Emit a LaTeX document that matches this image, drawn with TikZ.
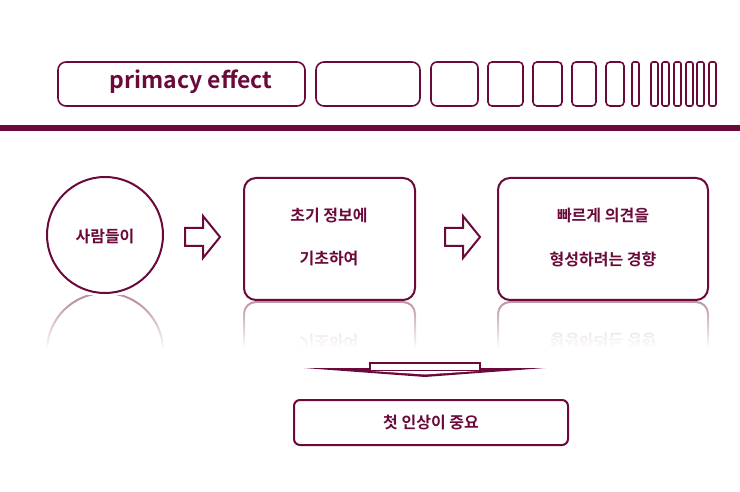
\documentclass[tikz,border=0pt]{standalone}
\usepackage{fontspec}
\setmainfont{Noto Sans CJK KR}[BoldFont={* Bold}]
\definecolor{wine}{HTML}{6B0A3A}
\begin{document}
\begin{tikzpicture}[x=1pt,y=-1pt,
 box/.style={draw=wine,line width=2pt,rounded corners=12pt,fill=white},
 bar/.style={draw=wine,line width=1.6pt,rounded corners=4pt},
 lbl/.style={text=wine,font=\bfseries\fontsize{16}{18}\selectfont},
 refl/.style={draw=wine!45,line width=2pt,rounded corners=12pt},
 rarrow/.style={draw=wine,line width=2pt,fill=white}]
\useasboundingbox (0,0) rectangle (740,492);
% top bar
\draw[bar,rounded corners=8pt] (58,62) rectangle (305,106);
\node[text=wine,font=\bfseries\fontsize{23}{26}\selectfont] (pe) at (191,82) {primacy effect};
\draw[bar,rounded corners=8pt] (316,62) rectangle (420,106);
\draw[bar,rounded corners=6pt] (431,62) rectangle (478,106);
\draw[bar] (488,62) rectangle (523,106);
\draw[bar] (533,62) rectangle (562,106);
\draw[bar] (572,62) rectangle (596,106);
\draw[bar] (606,62) rectangle (624,106);
\foreach \x in {632,651,662,674,686,697,709}{\draw[bar,rounded corners=2pt] (\x,62) rectangle (\x+7,106);}
\draw[wine,line width=6pt] (0,128) -- (740,128);
% reflections
\begin{scope}
\clip (0,296) rectangle (740,358);
\draw[refl] (105,351) circle (58);
\draw[refl] (244,302) rectangle (415,424);
\draw[refl] (498,302) rectangle (708,424);
\node[lbl,text=wine!30,yscale=-1,transform shape] (r1) at (329,341) {기초하여};
\node[lbl,text=wine!30,yscale=-1,transform shape] (r2) at (603,341) {형성하려는 경향};
\end{scope}
\foreach \i in {0,...,30}{
  \fill[white,fill opacity={min(1,\i/24)}] (0,300+2*\i) rectangle (740,302.2+2*\i);
}
% main nodes
\draw[box] (105,235) circle (58);
\node[lbl] (c) at (105,237) {사람들이};
\draw[box] (244,178) rectangle (415,300);
\node[lbl] (b1) at (329,216) {초기 정보에};
\node[lbl] (b1b) at (329,259) {기초하여};
\draw[box] (498,178) rectangle (708,300);
\node[lbl] (b2) at (603,216) {빠르게 의견을};
\node[lbl] (b2b) at (603,259) {형성하려는 경향};
% right arrows
\draw[rarrow] (185,228)--(203,228)--(203,216)--(220,237)--(203,258)--(203,246)--(185,246)--cycle;
\draw[rarrow] (445,228)--(463,228)--(463,216)--(480,237)--(463,258)--(463,246)--(445,246)--cycle;
% down arrow
\fill[wine] (304,368) -- (545,368) -- (425,377) -- cycle;
\draw[wine,line width=1.5pt,fill=white] (370,363) rectangle (480,371);
\fill[white] (372,371) -- (478,371) -- (425,374.5) -- cycle;
% bottom
\draw[box,rounded corners=6pt] (294,400) rectangle (568,445);
\node[lbl] (b3) at (431,422) {첫 인상이 중요};
\end{tikzpicture}
\end{document}
